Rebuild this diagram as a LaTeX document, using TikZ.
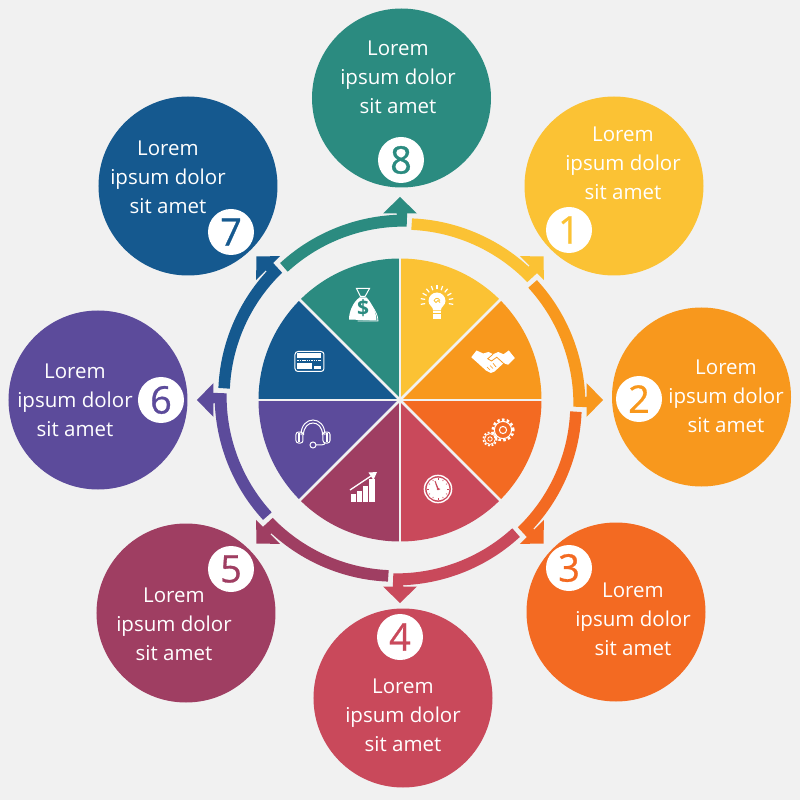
\documentclass[tikz,border=0pt]{standalone}
\usepackage{fontspec}
\setmainfont{Open Sans}
\newfontfamily\digitfont[FakeBold=0.7]{Open Sans}
\definecolor{bgc}{HTML}{F1F1F1}
\definecolor{cA}{HTML}{FBC234}
\definecolor{cB}{HTML}{F8981D}
\definecolor{cC}{HTML}{F36A22}
\definecolor{cD}{HTML}{C9495B}
\definecolor{cE}{HTML}{9F3E62}
\definecolor{cF}{HTML}{5C4B9B}
\definecolor{cG}{HTML}{15598F}
\definecolor{cH}{HTML}{2B8B80}
\newcommand{\ringarrow}[2]{% #1 head angle, #2 colour
  \pgfmathsetmacro{\hs}{#1+41.2}\pgfmathsetmacro{\he}{#1-2.2}
  \pgfmathsetmacro{\hn}{#1+1}
  \fill[#2] plot[domain=\hs:\he,samples=40] (\x:{170.5+3*(\hs-\x)/43.4})
     -- (\he:187.5) -- (\hn:187.5)
     -- plot[domain=\hn:\hs,samples=40] (\x:{182+3.5*(\hs-\x)/43.4}) -- cycle;
  \begin{scope}[rotate=#1]
    \fill[#2] (203,0) -- (186.5,17) -- (186.5,-17) -- cycle;
  \end{scope}}
\newcommand{\wedgepiece}[2]{% #1 start angle, #2 colour
  \pgfmathsetmacro{\we}{#1-45}
  \fill[#2] (0,0) -- (#1:141.5) arc[start angle=#1,end angle=\we,radius=141.5] -- cycle;}
\tikzset{
  bubble/.style={circle,minimum size=179pt,inner sep=0pt},
  badge/.style={circle,fill=white,minimum size=46pt,inner sep=0pt,font=\digitfont\fontsize{38}{38}\selectfont},
  lorem/.style={text=white,align=center,font=\fontsize{20.5}{29}\selectfont,inner sep=0pt},
  icon/.style={white,line width=1pt},
  gap/.style={bgc,line width=2.6pt}
}
\begin{document}
\begin{tikzpicture}[x=1pt,y=1pt]
\fill[bgc] (-400,-400) rectangle (400,400);
\useasboundingbox (-400,-400) rectangle (400,400);

% outer bubbles
\node[bubble,fill=cH] (b8) at (1.5,302) {};
\node[bubble,fill=cA] (b1) at (214,214) {};
\node[bubble,fill=cB] (b2) at (301.5,3) {};
\node[bubble,fill=cC] (b3) at (216,-212) {};
\node[bubble,fill=cD] (b4) at (3,-298) {};
\node[bubble,fill=cE] (b5) at (-214,-213) {};
\node[bubble,fill=cF] (b6) at (-302,0) {};
\node[bubble,fill=cG] (b7) at (-212,214) {};

% labels
\node[lorem] (t8) at (-2,323) {Lorem\\ipsum dolor\\sit amet};
\node[lorem] (t1) at (223,237) {Lorem\\ipsum dolor\\sit amet};
\node[lorem] (t2) at (326,4) {Lorem\\ipsum dolor\\sit amet};
\node[lorem] (t3) at (233,-219) {Lorem\\ipsum dolor\\sit amet};
\node[lorem] (t4) at (3,-315) {Lorem\\ipsum dolor\\sit amet};
\node[lorem] (t5) at (-226,-224) {Lorem\\ipsum dolor\\sit amet};
\node[lorem] (t6) at (-325,0) {Lorem\\ipsum dolor\\sit amet};
\node[lorem] (t7) at (-232,223) {Lorem\\ipsum dolor\\sit amet};

% number badges
\node[badge,text=cH] (n8) at (1,240) {8};
\node[badge,text=cA] (n1) at (169,170) {1};
\node[badge,text=cB] (n2) at (239,1) {2};
\node[badge,text=cC] (n3) at (169,-168) {3};
\node[badge,text=cD] (n4) at (0,-237) {4};
\node[badge,text=cE] (n5) at (-169,-169) {5};
\node[badge,text=cF] (n6) at (-239,0) {6};
\node[badge,text=cG] (n7) at (-169,168) {7};

% ring of arrows
\ringarrow{45}{cA}
\ringarrow{0}{cB}
\ringarrow{-45}{cC}
\ringarrow{-90}{cD}
\ringarrow{-135}{cE}
\ringarrow{180}{cF}
\ringarrow{135}{cG}
\ringarrow{90}{cH}

% pie
\wedgepiece{90}{cA}
\wedgepiece{45}{cB}
\wedgepiece{0}{cC}
\wedgepiece{-45}{cD}
\wedgepiece{-90}{cE}
\wedgepiece{-135}{cF}
\wedgepiece{180}{cG}
\wedgepiece{135}{cH}
\foreach \a in {0,45,...,315}{\draw[gap] (0,0) -- (\a:142.5);}

% bulb
\begin{scope}[shift={(37,92.5)}]
  \fill[white] (-3.8,-3) .. controls (-3.8,1) and (-8.5,2) .. (-8.5,6.5)
     arc[start angle=180,end angle=0,radius=8.5]
     .. controls (8.5,2) and (3.8,1) .. (3.8,-3) -- cycle;
  \fill[white] (-3.8,-4) rectangle (3.8,-12);
  \draw[cA,line width=.6pt] (-3.8,-6) -- (3.8,-6);
  \draw[cA,line width=.8pt] (-3,7) .. controls (-1,10) and (1,10) .. (3,7) (-3,7) -- (-1,5) -- (1,7) -- (3,5);
  \foreach \a in {-10,10,30,50,70,90,110,130,150,170,190}
     \draw[white,line width=1.2pt] (\a:12) ++(0,6) -- +(\a:4.5);
\end{scope}

% handshake
\begin{scope}[shift={(93,39)},scale=.75]
  \fill[white] (-29,5) -- (-22,14) -- (-13,10) -- (-6,12) -- (0,9) -- (7,12) -- (14,9) -- (21,14) -- (29,4)
     -- (20,-5) -- (14,-3) -- (2,-14) -- (-3,-16) -- (-9,-13) -- (-20,-3) -- cycle;
  \draw[cB,line width=.8pt] (0,9) -- (-7,3) -- (-2,0) -- (5,5) -- (15,-4);
  \draw[cB,line width=.7pt] (-8,-8) -- (-4,-12) (-4,-6) -- (0,-10) (0,-3) -- (4,-8);
\end{scope}

% gears
\begin{scope}[shift={(103,-30)}]
  \draw[white,line width=2.4pt,dash pattern=on 2.6pt off 2.3pt] (0,0) circle (10.4);
  \draw[icon] (0,0) circle (8.6);
  \draw[icon] (0,0) circle (3.6);
\end{scope}
\begin{scope}[shift={(90,-39)}]
  \draw[white,line width=1.8pt,dash pattern=on 1.9pt off 1.7pt] (0,0) circle (6.6);
  \draw[white,line width=.8pt] (0,0) circle (5.4);
  \draw[white,line width=.8pt] (0,0) circle (2.2);
\end{scope}

% clock
\begin{scope}[shift={(38,-89)}]
  \draw[white,line width=1.4pt] (0,0) circle (13.6);
  \fill[white] (0,0) circle (11.4);
  \foreach \a in {0,30,...,330} \draw[cD,line width=.7pt] (\a:9.2) -- (\a:10.6);
  \draw[cD,line width=1pt] (-2,5) -- (0,0) -- (2,0);
  \draw[cD,line width=1pt] (0,0) -- (-3,8);
  \fill[cD] (0,0) circle (1.4);
\end{scope}

% rising chart
\begin{scope}[shift={(-37,-87)}]
  \fill[white] (-12,-15) rectangle (-7.5,-7);
  \fill[white] (-6,-15) rectangle (-1.5,-4);
  \fill[white] (0,-15) rectangle (4.5,1);
  \fill[white] (6,-15) rectangle (12,8);
  \draw[white,line width=1.3pt] (-13,-3) -- (8,11);
  \fill[white] (14,15) -- (5.5,14.5) -- (10.5,7) -- cycle;
\end{scope}

% headset
\begin{scope}[shift={(-87,-33)}]
  \draw[white,line width=1pt] (-12,-2) .. controls (-12,18) and (12,18) .. (12,-2);
  \draw[white,line width=1pt] (-9.5,-2) .. controls (-9.5,14) and (9.5,14) .. (9.5,-2);
  \draw[white,line width=1pt,rounded corners=2.5pt] (-17,1) rectangle (-10,-10);
  \draw[white,line width=1pt,rounded corners=2.5pt] (10,1) rectangle (17,-10);
  \fill[white] (-15,0) rectangle (-13,-9);
  \fill[white] (13,0) rectangle (15,-9);
  \draw[white,line width=1pt] (12,-10) .. controls (12,-12) and (8,-12) .. (3,-12);
  \draw[white,line width=1pt] (0,-12) circle (3);
\end{scope}

% card
\begin{scope}[shift={(-90.5,38.5)}]
  \draw[white,line width=1pt,rounded corners=3pt] (-14.5,-10) rectangle (14.5,10);
  \fill[white] (-12,8) rectangle (12,3.5);
  \fill[white] (-12,-8) rectangle (3,-2);
  \draw[white,line width=1.2pt,dash pattern=on 1.5pt off .8pt] (-12,1) -- (12,1);
  \fill[white] (5,-8) rectangle (12,-4.5);
\end{scope}

% money bag
\begin{scope}[shift={(-36.5,95.5)}]
  \draw[white,line width=1pt] (-7,16) -- (6,16) -- (1.5,8) -- (-3,8) -- cycle;
  \fill[white] (-4,7) .. controls (-11,2) and (-14.5,-8) .. (-14.5,-15) -- (13,-16) .. controls (13,-8) and (8,2) .. (3,7) -- cycle;
  \draw[white,line width=.8pt] (8,-1) .. controls (12,-6) and (14.5,-12) .. (14.5,-16.5) -- (-6,-16.5);
  \node[text=cH,font=\fontsize{21}{21}\bfseries\selectfont,inner sep=0pt] (dollar) at (-0.5,-4) {\$};
\end{scope}
\end{tikzpicture}
\end{document}
